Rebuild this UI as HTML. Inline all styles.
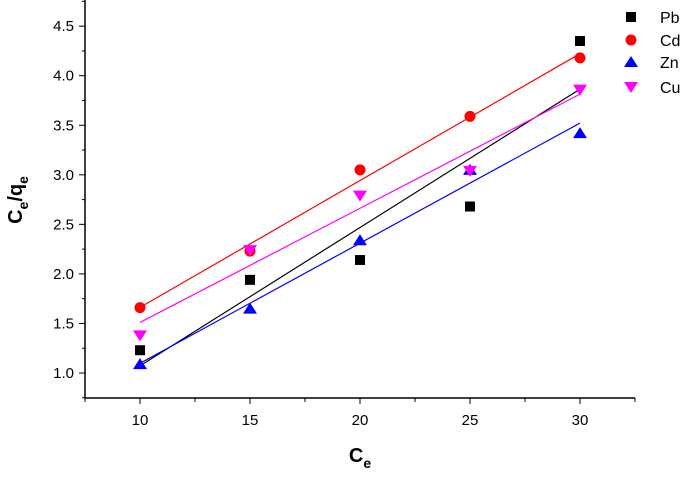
<!DOCTYPE html>
<html><head><meta charset="utf-8"><style>
body{margin:0;background:#fff;}
svg{display:block;font-family:"Liberation Sans",Arial,sans-serif;}
</style></head><body>
<svg id="chart" width="685" height="479"></svg>
<script>
const categories=[10,15,20,25,30];
const pbValues=[1.23,1.94,2.14,2.68,4.35];
const cdValues=[1.66,2.23,3.05,3.59,4.18];
const znValues=[1.09,1.65,2.34,3.05,3.42];
const cuValues=[1.38,2.24,2.79,3.04,3.86];
const seriesNames=["Pb","Cd","Zn","Cu"];
const xTickLabels=[10,15,20,25,30];
const yTickLabels=[1.0,1.5,2.0,2.5,3.0,3.5,4.0,4.5];
const NS="http://www.w3.org/2000/svg";
const svg=document.getElementById('chart');
const X0=85,X1=635,XMIN=7.5,XMAX=32.5;
const Y0=398,YPERU=99.1;
const xs=v=>X0+(v-XMIN)*(X1-X0)/(XMAX-XMIN);
const ys=v=>373-(v-1)*YPERU;
function mk(t,a,p){const e=document.createElementNS(NS,t);for(const k in a)e.setAttribute(k,a[k]);(p||svg).appendChild(e);return e;}
// axes
let e=mk('line',{x1:X0,y1:0,x2:X0,y2:Y0,stroke:'#000','stroke-width':1.5});

e=mk('line',{x1:X0,y1:Y0,x2:X1,y2:Y0,stroke:'#000','stroke-width':1.5});

for(let v=0.75;v<=4.76;v+=0.25){const y=ys(v);const major=Math.abs(v*2-Math.round(v*2))<1e-6;
 mk('line',{x1:X0-(major?6:3),y1:y,x2:X0,y2:y,stroke:'#000','stroke-width':1});}
yTickLabels.forEach(v=>{const t=mk('text',{x:X0-11,y:ys(v)+5,'text-anchor':'end','font-size':15});t.textContent=v.toFixed(1);
 });
for(let v=XMIN;v<=XMAX+0.01;v+=2.5){const x=xs(v);const major=Math.abs(v%5)<1e-6;
 mk('line',{x1:x,y1:Y0,x2:x,y2:Y0+(major?6:4),stroke:'#000','stroke-width':1});}
xTickLabels.forEach(v=>{const t=mk('text',{x:xs(v),y:425,'text-anchor':'middle','font-size':15});t.textContent=v;
 });
let t=mk('text',{x:360,y:462,'text-anchor':'middle','font-size':20,'font-weight':'bold'});
t.innerHTML='C<tspan font-size="14" dy="6">e</tspan>';

t=mk('text',{transform:'translate(22,200) rotate(-90)','text-anchor':'middle','font-size':20,'font-weight':'bold'});
t.innerHTML='C<tspan font-size="14" dy="6">e</tspan><tspan dy="-6">/q</tspan><tspan font-size="14" dy="6">e</tspan>';

const series=[[pbValues,'#000','square'],[cdValues,'#f00','circle'],[znValues,'#00f','up'],[cuValues,'#f0f','down']];
function marker(shape,x,y,c,p){
 if(shape==='square')return mk('rect',{x:x-5,y:y-5,width:10,height:10,fill:c},p);
 if(shape==='circle')return mk('circle',{cx:x,cy:y,r:5.5,fill:c},p);
 if(shape==='up')return mk('polygon',{points:`${x},${y-6} ${x+7},${y+5} ${x-7},${y+5}`,fill:c},p);
 return mk('polygon',{points:`${x},${y+6} ${x+7},${y-5} ${x-7},${y-5}`,fill:c},p);}
series.forEach(([vals,c,shape],i)=>{
 const n=categories.length,mx=categories.reduce((a,b)=>a+b)/n,my=vals.reduce((a,b)=>a+b)/n;
 let sxy=0,sxx=0;categories.forEach((x,j)=>{sxy+=(x-mx)*(vals[j]-my);sxx+=(x-mx)**2;});
 const b=sxy/sxx,a=my-b*mx;
 const l=mk('line',{x1:xs(categories[0]),y1:ys(a+b*categories[0]),x2:xs(categories[n-1]),y2:ys(a+b*categories[n-1]),stroke:c,'stroke-width':1.2});
 
});
series.forEach(([vals,c,shape],i)=>{
 vals.forEach((v,j)=>{const m=marker(shape,xs(categories[j]),ys(v),c);
  });
});
const legY=[17,40,62,87];
const g=mk('g',{});
series.forEach(([vals,c,shape],i)=>{
 const m=marker(shape,631,legY[i],c,g);
 const tt=mk('text',{x:660,y:legY[i]+6,'font-size':16},g);tt.textContent=seriesNames[i];
 
});
</script>
</body></html>
